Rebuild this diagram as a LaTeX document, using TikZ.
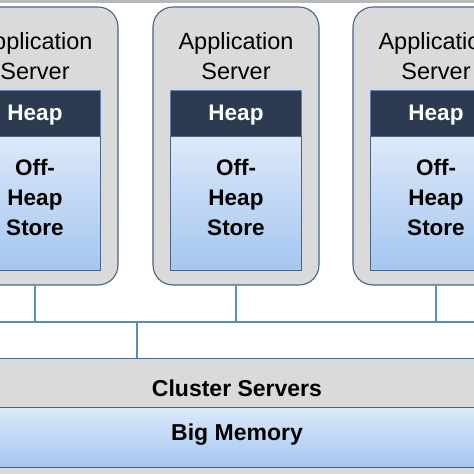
\documentclass[tikz,border=0pt]{standalone}
\usepackage{fontspec}
\setmainfont{Liberation Sans}
\definecolor{frameblue}{HTML}{4A6483}
\definecolor{srvgray}{HTML}{DADADA}
\definecolor{heapnavy}{HTML}{2C3B52}
\definecolor{heapedge}{HTML}{5F86B5}
\definecolor{storetop}{HTML}{DDE9F9}
\definecolor{storebot}{HTML}{A4C6F0}
\definecolor{wireblue}{HTML}{5A8AC4}
\tikzset{
  appbox/.style   = {draw=frameblue, line width=1.1pt, fill=srvgray, rounded corners=20pt,
                     minimum width=166pt, minimum height=278pt},
  applabel/.style = {align=center, font=\fontsize{23.5}{30}\selectfont},
  heapbox/.style  = {draw=heapedge, line width=1pt, fill=heapnavy, text=white, text depth=0pt,
                     font=\bfseries\fontsize{22.5}{26}\selectfont, minimum width=131pt, minimum height=46pt},
  storebox/.style = {draw=frameblue, line width=1pt, top color=storetop, bottom color=storebot,
                     minimum width=131pt, minimum height=134pt},
  storetext/.style= {align=center, font=\bfseries\fontsize{22.5}{30}\selectfont},
  layerbar/.style = {draw=frameblue, line width=1pt, minimum width=520pt, inner sep=0pt,
                     font=\bfseries\fontsize{23}{26}\selectfont},
  wire/.style     = {draw=wireblue, line width=1.2pt}
}

\begin{document}
\begin{tikzpicture}[x=1pt, y=-1pt]
  \useasboundingbox (0,0) rectangle (474,474);
  \clip (0,0) rectangle (474,474);
  \fill[srvgray!85!black] (0,0) rectangle (474,3);
  \fill[srvgray] (0,467) rectangle (474,474);

  % application servers
  \node [appbox] (app1) at ( 35,146) {};
  \node [appbox] (app2) at (236,146) {};
  \node [appbox] (app3) at (436,146) {};
  \node [applabel] (lbl1) at ( 35,56) {Application\\Server};
  \node [applabel] (lbl2) at (236,56) {Application\\Server};
  \node [applabel] (lbl3) at (436,56) {Application\\Server};
  \node [heapbox] (heap1) at ( 35,113) {Heap};
  \node [heapbox] (heap2) at (236,113) {Heap};
  \node [heapbox] (heap3) at (436,113) {Heap};
  \node [storebox] (store1) at ( 35,203) {};
  \node [storebox] (store2) at (236,203) {};
  \node [storebox] (store3) at (436,203) {};
  \node [storetext] (offheap1) at ( 35,197) {Off-\\Heap\\Store};
  \node [storetext] (offheap2) at (236,197) {Off-\\Heap\\Store};
  \node [storetext] (offheap3) at (436,197) {Off-\\Heap\\Store};

  % network
  \coordinate (busL) at (-10,322);
  \coordinate (busR) at (484,322);
  \coordinate (tap)  at (137,322);
  \draw [wire] (busL) -- (busR);
  \draw [wire] (app1.south) -- (app1.south |- busL);
  \draw [wire] (app2.south) -- (app2.south |- busL);
  \draw [wire] (app3.south) -- (app3.south |- busL);

  % lower layers
  \node [layerbar, fill=srvgray, minimum height=49pt, text height=27pt, text depth=0pt]
        (cluster) at (237,382.5) {Cluster Servers};
  \node [layerbar, top color=storetop, bottom color=storebot, minimum height=60pt, text depth=10pt]
        (bigmem) at (237,437) {Big Memory};
  \draw [wire] (tap) -- (tap |- cluster.north);
\end{tikzpicture}
\end{document}
